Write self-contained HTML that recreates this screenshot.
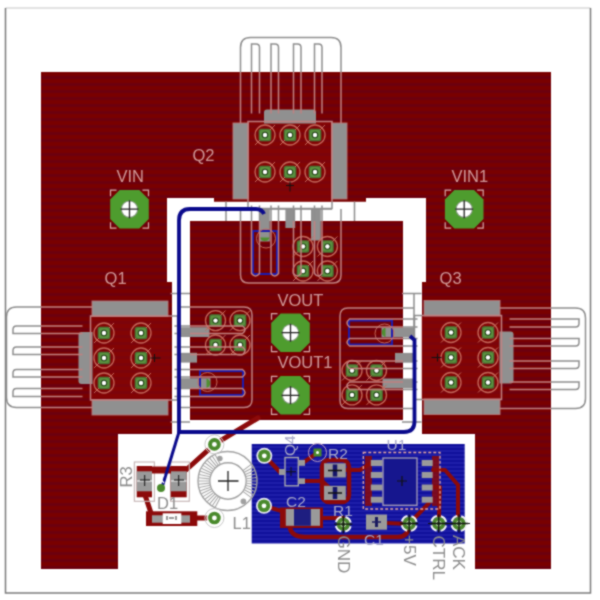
<!DOCTYPE html>
<html><head><meta charset="utf-8">
<style>
html,body{margin:0;padding:0;background:#fff;width:600px;height:600px;overflow:hidden}
svg{display:block;will-change:transform}
text{font-family:"Liberation Sans",sans-serif}
</style></head>
<body>
<svg width="600" height="600" viewBox="0 0 600 600">
<defs>
<filter id="fb" x="0" y="0" width="600" height="600" filterUnits="userSpaceOnUse" color-interpolation-filters="sRGB"><feConvolveMatrix order="3" kernelMatrix="1 2 1 2 8 2 1 2 1" divisor="20" edgeMode="duplicate"/></filter>
<pattern id="redp" width="8" height="7" patternUnits="userSpaceOnUse" y="72">
<rect width="8" height="7" fill="#790000"/><rect y="4" width="8" height="3" fill="#6c000e"/></pattern>
<pattern id="bluep" width="8" height="4" patternUnits="userSpaceOnUse">
<rect width="8" height="4" fill="#10109c"/><rect y="2" width="8" height="2" fill="#1e1ea8"/></pattern>
<g id="bigpad">
<circle r="10" fill="none" stroke="#c4685a" stroke-width="1.3"/>
<rect x="-6.3" y="-6.3" width="12.6" height="12.6" rx="2.5" fill="#4a7434"/>
<rect x="-5" y="-5" width="10" height="10" rx="2" fill="#5a9240"/>
<circle r="3.2" fill="#1e3e14"/>
<circle r="2.2" fill="#fff"/>
</g>
<g id="bigvia">
<path d="M-9.8,-19.3 H9.8 L19.3,-9.8 V9.8 L9.8,19.3 H-9.8 L-19.3,9.8 V-9.8 Z" fill="#4e9c2e"/>
<circle r="8.6" fill="#8a9a88"/><circle r="7.6" fill="#fff"/>
<path d="M-9,0 H9 M0,-9 V9" stroke="#222" stroke-width="1.3"/>
<path d="M-19,-13 V-19 H-13 M13,-19 H19 V-13 M19,13 V19 H13 M-13,19 H-19 V13" fill="none" stroke="#d8a8a8" stroke-width="1.2"/>
</g>
<g id="tpad">
<circle r="8" fill="#fff" opacity="0.9"/>
<circle r="6.3" fill="#4a8a2c"/>
<circle r="2.4" fill="#fff"/>
</g>
<g id="xpad">
<circle r="6.8" fill="#4a862c"/>
<circle r="7.6" fill="none" stroke="#f4f4f4" stroke-width="2" stroke-dasharray="7.94 4" stroke-dashoffset="-2"/>
<circle r="2.6" fill="none" stroke="#c8d8c0" stroke-width="1"/>
<path d="M-9,0 H9 M0,-9 V9" stroke="#111" stroke-width="1.3"/>
</g>

<g id="qfp"><rect x="-42" y="-32" width="84" height="80" fill="#900808" opacity="0.45"/>
<g fill="#909090">
<path d="M-26,-30 V-41 Q-26,-44 -23,-44 H23 Q26,-44 26,-41 V-30 Z"/>
<rect x="-57" y="-30.5" width="15.5" height="76" stroke="#b87878" stroke-width="0.9"/>
<rect x="41.5" y="-30.5" width="15.5" height="76" stroke="#b87878" stroke-width="0.9"/>
<rect x="-30" y="55" width="9.8" height="33"/>
<rect x="-4.6" y="55" width="9.8" height="19.5"/>
<rect x="21" y="55" width="9.8" height="32"/>
</g>
<use href="#bigpad" x="-25" y="-18.5"/>
<use href="#bigpad" x="0" y="-18.5"/>
<use href="#bigpad" x="25" y="-18.5"/>
<use href="#bigpad" x="-25" y="18.5"/>
<use href="#bigpad" x="0" y="18.5"/>
<use href="#bigpad" x="25" y="18.5"/>
<use href="#bigpad" x="13" y="93"/>
<use href="#bigpad" x="37.4" y="93"/>
<use href="#bigpad" x="13" y="117.5"/>
<use href="#bigpad" x="37.4" y="117.5"/>
<rect x="-37" y="77.5" width="24" height="43" fill="none" stroke="#1c1cb0" stroke-width="2"/>
<path d="M-30,84 A5,5 0 0 0 -20.4,84 Z" fill="#4f8f30"/>
<circle cx="-24" cy="85" r="9.5" fill="none" stroke="#c4685a" stroke-width="1"/>
<path d="M-4,32 H4 M0,28 V38" stroke="#111" stroke-width="1"/></g>
<g id="qlines"><g fill="none" stroke-width="1.5">
<path d="M-49.5,-30 V-106 Q-49.5,-116 -39.5,-116 H41 Q51,-116 51,-106 V-30"/>
<path d="M-49.5,55.5 V121.5 Q-49.5,129.5 -41.5,129.5 H43 Q51,129.5 51,121.5 V55.5"/>
<line x1="-64" y1="55.5" x2="42" y2="55.5"/>
<path d="M-64,48 V67.5 M64.5,48 V67.5"/>
<rect x="-42" y="-32" width="84" height="87"/>
<path d="M-38.5,-40 V-109.5 H-34.0 Q-30.5,-109.5 -30.5,-106 V-40"/>
<path d="M-38.5,52 V120 Q-34.5,125 -30.5,120 V52"/>
<path d="M-19,-40 V-109.5 H-15.0 Q-11.5,-109.5 -11.5,-106 V-40"/>
<path d="M-19,52 V120 Q-15.25,125 -11.5,120 V52"/>
<path d="M3.5,-40 V-109.5 H7.5 Q11,-109.5 11,-106 V-40"/>
<path d="M3.5,52 V120 Q7.25,125 11,120 V52"/>
<path d="M24.5,-40 V-109.5 H28.5 Q32,-109.5 32,-106 V-40"/>
<path d="M24.5,52 V120 Q28.25,125 32,120 V52"/>
</g></g>
<clipPath id="redclip"><path clip-rule="evenodd" d="M41,72 H551 V569 H41 Z M167,198 H214 V201.7 H366 V198 H426 V282 H422 V434 H475 V569 H118 V434 H172 V282 H167 Z M190,221 H403 V420 H190 Z"/></clipPath>
<clipPath id="whiteclip"><path clip-rule="evenodd" d="M0,0 H600 V600 H0 Z M41,72 H551 V569 H41 Z M167,198 H214 V201.7 H366 V198 H426 V282 H422 V434 H475 V569 H118 V434 H172 V282 H167 Z M190,221 H403 V420 H190 Z"/></clipPath>
</defs><g filter="url(#fb)"><rect width="600" height="600" fill="#fff"/>
<path d="M5.5,8 H590.5" fill="none" stroke="#d8d8d8" stroke-width="1.6"/>
<path d="M5.5,8 V593 H590.5 V8" fill="none" stroke="#7c7c7c" stroke-width="1.5"/>
<rect x="41" y="72" width="510" height="497" fill="url(#redp)"/>
<path d="M167,198 H214 V201.7 H366 V198 H426 V282 H422 V434 H475 V569 H118 V434 H172 V282 H167 Z" fill="#fff"/>
<rect x="190" y="221" width="213" height="199" fill="url(#redp)"/>
<use href="#qfp" transform="translate(290,153.5) rotate(0)"/>
<use href="#qfp" transform="translate(122.5,358) rotate(-90)"/>
<use href="#qfp" transform="translate(469.5,357.5) rotate(90)"/>
<g clip-path="url(#redclip)">
<use href="#qlines" stroke="#c08080" transform="translate(290,153.5) rotate(0)"/>
<use href="#qlines" stroke="#c08080" transform="translate(122.5,358) rotate(-90)"/>
<use href="#qlines" stroke="#c08080" transform="translate(469.5,357.5) rotate(90)"/>
</g><g clip-path="url(#whiteclip)">
<use href="#qlines" stroke="#8e8e8e" transform="translate(290,153.5) rotate(0)"/>
<use href="#qlines" stroke="#8e8e8e" transform="translate(122.5,358) rotate(-90)"/>
<use href="#qlines" stroke="#8e8e8e" transform="translate(469.5,357.5) rotate(90)"/>
</g>
<path d="M255.0,145.0 L260.0,140.0 M270.0,130.0 L275.0,125.0" stroke="#c4685a" stroke-width="1"/>
<path d="M280.0,145.0 L285.0,140.0 M295.0,130.0 L300.0,125.0" stroke="#c4685a" stroke-width="1"/>
<path d="M305.0,145.0 L310.0,140.0 M320.0,130.0 L325.0,125.0" stroke="#c4685a" stroke-width="1"/>
<path d="M255.0,182.0 L260.0,177.0 M270.0,167.0 L275.0,162.0" stroke="#c4685a" stroke-width="1"/>
<path d="M280.0,182.0 L285.0,177.0 M295.0,167.0 L300.0,162.0" stroke="#c4685a" stroke-width="1"/>
<path d="M305.0,182.0 L310.0,177.0 M320.0,167.0 L325.0,162.0" stroke="#c4685a" stroke-width="1"/>
<path d="M293.0,256.5 L298.0,251.5 M308.0,241.5 L313.0,236.5" stroke="#c4685a" stroke-width="1"/>
<path d="M317.4,256.5 L322.4,251.5 M332.4,241.5 L337.4,236.5" stroke="#c4685a" stroke-width="1"/>
<path d="M293.0,281.0 L298.0,276.0 M308.0,266.0 L313.0,261.0" stroke="#c4685a" stroke-width="1"/>
<path d="M317.4,281.0 L322.4,276.0 M332.4,266.0 L337.4,261.0" stroke="#c4685a" stroke-width="1"/>
<path d="M94.0,393.0 L99.0,388.0 M109.0,378.0 L114.0,373.0" stroke="#c4685a" stroke-width="1"/>
<path d="M94.0,368.0 L99.0,363.0 M109.0,353.0 L114.0,348.0" stroke="#c4685a" stroke-width="1"/>
<path d="M94.0,343.0 L99.0,338.0 M109.0,328.0 L114.0,323.0" stroke="#c4685a" stroke-width="1"/>
<path d="M131.0,393.0 L136.0,388.0 M146.0,378.0 L151.0,373.0" stroke="#c4685a" stroke-width="1"/>
<path d="M131.0,368.0 L136.0,363.0 M146.0,353.0 L151.0,348.0" stroke="#c4685a" stroke-width="1"/>
<path d="M131.0,343.0 L136.0,338.0 M146.0,328.0 L151.0,323.0" stroke="#c4685a" stroke-width="1"/>
<path d="M205.5,355.0 L210.5,350.0 M220.5,340.0 L225.5,335.0" stroke="#c4685a" stroke-width="1"/>
<path d="M205.5,330.6 L210.5,325.6 M220.5,315.6 L225.5,310.6" stroke="#c4685a" stroke-width="1"/>
<path d="M230.0,355.0 L235.0,350.0 M245.0,340.0 L250.0,335.0" stroke="#c4685a" stroke-width="1"/>
<path d="M230.0,330.6 L235.0,325.6 M245.0,315.6 L250.0,310.6" stroke="#c4685a" stroke-width="1"/>
<path d="M478.0,342.5 L483.0,337.5 M493.0,327.5 L498.0,322.5" stroke="#c4685a" stroke-width="1"/>
<path d="M478.0,367.5 L483.0,362.5 M493.0,352.5 L498.0,347.5" stroke="#c4685a" stroke-width="1"/>
<path d="M478.0,392.5 L483.0,387.5 M493.0,377.5 L498.0,372.5" stroke="#c4685a" stroke-width="1"/>
<path d="M441.0,342.5 L446.0,337.5 M456.0,327.5 L461.0,322.5" stroke="#c4685a" stroke-width="1"/>
<path d="M441.0,367.5 L446.0,362.5 M456.0,352.5 L461.0,347.5" stroke="#c4685a" stroke-width="1"/>
<path d="M441.0,392.5 L446.0,387.5 M456.0,377.5 L461.0,372.5" stroke="#c4685a" stroke-width="1"/>
<path d="M366.5,380.5 L371.5,375.5 M381.5,365.5 L386.5,360.5" stroke="#c4685a" stroke-width="1"/>
<path d="M366.5,404.9 L371.5,399.9 M381.5,389.9 L386.5,384.9" stroke="#c4685a" stroke-width="1"/>
<path d="M342.0,380.5 L347.0,375.5 M357.0,365.5 L362.0,360.5" stroke="#c4685a" stroke-width="1"/>
<path d="M342.0,404.9 L347.0,399.9 M357.0,389.9 L362.0,384.9" stroke="#c4685a" stroke-width="1"/>
<use href="#bigvia" x="129.5" y="209.2"/>
<use href="#bigvia" x="464.2" y="209.2"/>
<use href="#bigvia" x="290.5" y="332.7"/>
<use href="#bigvia" x="290.5" y="395.3"/>
<g fill="#d09898" font-size="16.5">
<text x="116.5" y="181.5">VIN</text>
<text x="451.5" y="181.7">VIN1</text>
<text x="277.5" y="306.4">VOUT</text>
<text x="277.5" y="368">VOUT1</text>
<text x="192.5" y="160.5">Q2</text>
<text x="104.6" y="283.7">Q1</text>
<text x="439.6" y="283.7">Q3</text>
</g>
<rect x="251.7" y="444" width="213" height="99.5" fill="url(#bluep)"/>
<g fill="none" stroke="#8c0a0a" stroke-linecap="round" stroke-linejoin="round">
<path d="M168,470 H186 L214.4,444.4 L258,418" stroke-width="5"/>
<path d="M145,495 L152,516" stroke-width="5"/>
<path d="M195,518 H214.4" stroke-width="5"/>
<path d="M264.3,455.8 L280,472" stroke-width="4.5"/>
<path d="M304,462 L316.7,453.3" stroke-width="4"/>
<path d="M304,481 H322 L335,493" stroke-width="4"/>
<path d="M335,470 L360,470 L371,463" stroke-width="4"/>
<path d="M264,505.8 L285,512" stroke-width="4"/>
<path d="M290,528 Q292,537 305,537 H398 Q409,537 409.2,524" stroke-width="4.5"/>
<path d="M320,518 H343.3" stroke-width="4"/>
<path d="M433,470 H445 L458,485 V524" stroke-width="4"/>
<path d="M433,487 H440 L438.7,524" stroke-width="4"/>
<path d="M388,523 L409.2,524" stroke-width="4"/>
<path d="M409.2,523.5 L432,500" stroke-width="4"/>
</g>
<rect x="134.4" y="462" width="20" height="39.3" fill="none" stroke="#c8b8b8" stroke-width="1.2"/>
<rect x="170.7" y="462" width="18.6" height="39.3" fill="none" stroke="#c8b8b8" stroke-width="1.2"/>
<rect x="136.7" y="466" width="15.3" height="31.3" fill="#8c0a0a"/>
<rect x="170.7" y="466" width="16" height="31.3" fill="#8c0a0a"/>
<rect x="136.7" y="471.3" width="15.3" height="20" fill="#9a9a9a"/>
<rect x="170.7" y="471.3" width="16" height="20" fill="#9a9a9a"/>
<path d="M137,481 H152 M171,481 H186.5" stroke="#fff" stroke-width="1.2"/>
<path d="M140,480 H150 M144.7,475 V486 M174,480 H184 M178.7,475 V486" stroke="#111" stroke-width="1"/>
<path d="M152,470 H171" stroke="#8c0a0a" stroke-width="7"/>
<rect x="146" y="511.3" width="51.3" height="14.7" fill="#8c0a0a"/>
<rect x="152" y="515.3" width="38" height="7.4" fill="#9a9a9a"/>
<rect x="162.7" y="513.3" width="18.6" height="10.7" fill="#fff"/>
<path d="M167,516 V520 M176,516 V520 M169,518 H174" stroke="#333" stroke-width="1"/>
<path d="M264,214 Q262,209 256,209 H190 Q179,209 179,220.5 V432 H404 Q414.5,432 414.5,421.5 V340 L410,336" fill="none" stroke="#0a0a8c" stroke-width="3.8"/>
<path d="M179,432 L161.5,489" fill="none" stroke="#0a0a8c" stroke-width="3"/>
<circle cx="161" cy="488" r="4" fill="#4a8a2c"/><path d="M157,475 L164,483 M164,475 L157,483" stroke="#fff" stroke-width="1.3"/>
<g fill="none" stroke="#a2a2a2" stroke-width="1.4"><circle cx="227.5" cy="481" r="29.5"/><circle cx="228" cy="481" r="18.2"/></g>
<path d="M220.2,497.8 L215.2,507.3 M218.3,496.8 L212.3,505.7 M216.6,495.6 L209.6,503.9 M215.0,494.2 L207.2,501.7 M213.6,492.6 L205.0,499.3 M212.4,490.9 L203.0,496.6 M211.4,489.1 L201.4,493.7 M210.6,487.2 L200.2,490.7 M210.0,485.2 L199.2,487.5 M209.6,483.1 L198.7,484.3 M209.5,481.0 L198.5,481.0 M209.6,478.9 L198.7,477.7 M210.0,476.8 L199.2,474.5 M210.6,474.8 L200.2,471.3 M211.4,472.9 L201.4,468.3 M212.4,471.1 L203.0,465.4 M213.6,469.4 L205.0,462.7 M215.0,467.8 L207.2,460.3 M216.6,466.4 L209.6,458.1 M218.3,465.2 L212.3,456.3 M220.2,464.2 L215.2,454.7 M243.2,470.4 L251.3,464.4 M244.3,472.3 L253.1,467.4 M245.3,474.4 L254.6,470.6 M246.0,476.5 L255.6,474.0 M246.4,478.7 L256.3,477.5 M246.5,481.0 L256.5,481.0 M246.4,483.3 L256.3,484.5 M246.0,485.5 L255.6,488.0 M245.3,487.6 L254.6,491.4 M244.3,489.7 L253.1,494.6 M243.2,491.6 L251.3,497.6" stroke="#a8a8a8" stroke-width="1.1"/>
<circle cx="219.8" cy="458.5" r="2.8" fill="#a0a0a0"/>
<circle cx="243.4" cy="501.4" r="2.8" fill="#a0a0a0"/>
<path d="M218,481 H238.5 M228,471 V491" stroke="#222" stroke-width="1.3"/>
<circle cx="214.4" cy="444.4" r="9.5" fill="none" stroke="#c8c8c8" stroke-width="1"/>
<circle cx="214.4" cy="518" r="9.5" fill="none" stroke="#c8c8c8" stroke-width="1"/>
<use href="#tpad" x="214.4" y="444.4"/>
<use href="#tpad" x="214.4" y="518"/>
<use href="#tpad" x="264.3" y="455.8"/>
<use href="#tpad" x="264" y="505.8"/>
<rect x="285" y="457.5" width="13.3" height="28.3" fill="none" stroke="#b0b0b0" stroke-width="1.3"/>
<rect x="279" y="469" width="6" height="6" fill="#9a9a9a"/>
<rect x="298.3" y="460" width="6.7" height="5.8" fill="#9a9a9a"/>
<rect x="298.3" y="478.3" width="6.7" height="5.7" fill="#9a9a9a"/>
<path d="M286,471.7 H296 M291,467 V476" stroke="#111" stroke-width="1"/>
<circle cx="317.5" cy="452.5" r="9" fill="none" stroke="#c0a0c0" stroke-width="1"/>
<rect x="313.5" y="448.5" width="8" height="8" fill="#4a8a2c"/>
<circle cx="317.5" cy="452.5" r="1.5" fill="#fff"/>
<rect x="322" y="460" width="27" height="42" rx="7" fill="none" stroke="#8c0a0a" stroke-width="4.5"/>
<rect x="324" y="463.3" width="21.8" height="14.2" fill="#9a9a9a"/>
<rect x="324" y="485.8" width="21.8" height="14.2" fill="#9a9a9a"/>
<path d="M335,464.5 V476.5 M335,487 V499" stroke="#16166a" stroke-width="4.5"/>
<path d="M328,470.5 H342 M328,493 H342" stroke="#111" stroke-width="1.4"/>
<rect x="280" y="507.5" width="43" height="20.5" fill="#8c0a0a"/>
<rect x="285.8" y="509" width="34.2" height="16.8" fill="#9a9a9a"/>
<rect x="294" y="509" width="16.8" height="16.8" fill="#1e1e80"/>
<path d="M365,456 H372 V506 H365 Z M432,456 H439 V506 H432 Z" fill="#8c0a0a" opacity="0.85"/>
<rect x="363.3" y="452.5" width="76.7" height="56.5" fill="none" stroke="#e8a8a0" stroke-width="1.3" stroke-dasharray="3,2"/>
<g fill="#9a9a9a">
<rect x="370.8" y="460" width="11.7" height="6"/>
<rect x="370.8" y="472" width="11.7" height="6"/>
<rect x="370.8" y="484.5" width="11.7" height="6"/>
<rect x="370.8" y="496.7" width="11.7" height="6"/>
<rect x="421.7" y="460" width="11" height="6"/>
<rect x="421.7" y="472" width="11" height="6"/>
<rect x="421.7" y="484.5" width="11" height="6"/>
<rect x="421.7" y="496.7" width="11" height="6"/>
</g>
<rect x="383" y="458" width="34" height="47.3" fill="#16168e" stroke="#a8a0b8" stroke-width="1.3"/>
<path d="M397,481 H407 M402,476 V486" stroke="#111" stroke-width="1.2"/>
<rect x="366" y="514.5" width="21" height="15.2" fill="#9a9a9a"/>
<path d="M372,522 H381" stroke="#1a1a60" stroke-width="1.5"/><path d="M376.5,517 V527" stroke="#1a1a60" stroke-width="3"/>
<use href="#xpad" x="343.3" y="524.2"/>
<use href="#xpad" x="409.2" y="523.5"/>
<use href="#xpad" x="438.7" y="523.5"/>
<use href="#xpad" x="459" y="523.5"/>
<path d="M428,523.5 H470" stroke="#111" stroke-width="1"/>
<g fill="#8c8c8c" font-size="16.5">
<text x="232.5" y="529.3">L1</text>
<text x="157" y="508.7">D1</text>
<text transform="translate(131.5,487.5) rotate(-90)">R3</text>
</g>
<g fill="#a8a8c8" font-size="15.5">
<text x="286" y="506.7">C2</text>
<text x="328" y="459">R2</text>
<text x="386.5" y="450">U1</text>
<text x="333" y="516">R1</text>
<text x="364" y="545">C1</text>
<text transform="translate(294.5,456) rotate(-90)">Q4</text>
</g>
<g fill="#8c8c8c" font-size="17">
<text transform="translate(337.5,535.5) rotate(90)">GND</text>
<text transform="translate(404,535) rotate(90)">+5V</text>
<text transform="translate(433,535.5) rotate(90)">CTRL</text>
<text transform="translate(453,535) rotate(90)">ACK</text>
</g>
</g></svg>
</body></html>
